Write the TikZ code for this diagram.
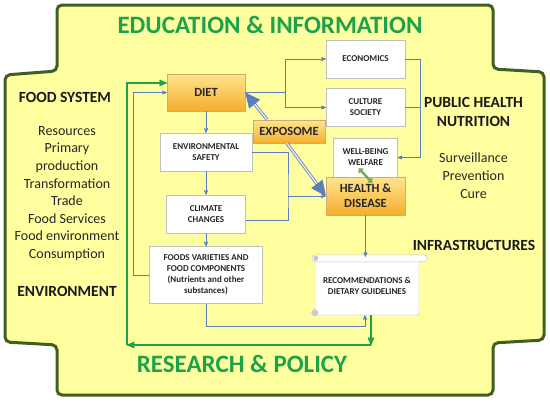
\documentclass[tikz,border=0pt]{standalone}
\usepackage{fontspec}
\setmainfont{Carlito}
\usepackage{xcolor}
\usepackage{tikz}
\usetikzlibrary{arrows,arrows.meta,calc}

\definecolor{edugreen}{HTML}{1BA24A}
\definecolor{framegreen}{HTML}{3F5F1F}
\definecolor{paper}{HTML}{FFFFA0}
\definecolor{linkblue}{HTML}{5A7EC0}
\definecolor{boxline}{HTML}{BFBFBF}
\definecolor{hottop}{HTML}{FFE58E}
\definecolor{hotbot}{HTML}{F5AE2E}
\definecolor{wellgreen}{HTML}{70AD47}

\begin{document}
\begin{tikzpicture}[x=1pt,y=-1pt,>=stealth',node distance=61pt,
 box/.style={draw=boxline,fill=white,align=center,inner sep=2pt,
  font=\bfseries\fontsize{9}{11}\selectfont,text=black!85},
 hot/.style={draw=boxline!60!orange,top color=hottop,bottom color=hotbot,align=center,
  inner sep=2pt,font=\bfseries\fontsize{12.5}{15}\selectfont,text=black!85},
 link/.style={draw=linkblue,line width=0.7pt},
 green link/.style={draw=edugreen,line width=1.6pt},
 expo arrow/.style={draw=linkblue,double=blue!8,double distance=1.4pt,line width=0.8pt,
  -{Triangle[length=15pt,width=14pt]}},
 big/.style={font=\bfseries\fontsize{25}{28}\selectfont,text=edugreen},
 head/.style={font=\bfseries\fontsize{15.5}{19}\selectfont,align=center,text=black!90},
 list/.style={font=\fontsize{14}{17.6}\selectfont,align=center,text=black!85}]
 \useasboundingbox (0,0) rectangle (550,402);

 % frame
 \draw[framegreen,line width=3pt,fill=paper,rounded corners=5pt]
  (57,5) -- (493,5) -- (493,69) -- (544,72) -- (544,340) -- (493,343)
  -- (493,395) -- (57,395) -- (57,345) -- (5,342) -- (5,75) -- (57,71) -- cycle;

 % texts round the frame
 \node[big] (edu) at (270,25) {EDUCATION \& INFORMATION};
 \node[big] (research) at (242,364) {RESEARCH \& POLICY};
 \node[head] (foodsys) at (65,97) {FOOD SYSTEM};
 \node[list] (chain) at (67,193.5) {Resources\\Primary\\production\\Transformation\\Trade\\Food Services\\Food environment\\Consumption};
 \node[head] (environment) at (67,291) {ENVIRONMENT};
 \node[head] (phn) at (473.5,112) {PUBLIC HEALTH\\NUTRITION};
 \node[list,font=\fontsize{14}{18}\selectfont] (care) at (473.5,176) {Surveillance\\Prevention\\Cure};
 \node[head] (infra) at (474,245) {INFRASTRUCTURES};

 % left column
 \node[hot,minimum width=78pt,minimum height=37pt] (diet) at (206,92.5) {DIET};
 \node[box,minimum width=92pt,minimum height=38pt,below of=diet,node distance=59.5pt] (env) {ENVIRONMENTAL\\SAFETY};
 \node[box,minimum width=79pt,minimum height=38pt,below of=env,node distance=62pt] (climate) {CLIMATE\\CHANGES};
 \node[box,minimum width=113pt,minimum height=57pt,below of=climate] (foods) {FOODS VARIETIES AND\\FOOD COMPONENTS\\(Nutrients and other\\substances)};

 % right column
 \node[box,minimum width=79pt,minimum height=38pt] (econ) at (365.5,59) {ECONOMICS};
 \node[box,minimum width=79pt,minimum height=38pt,below of=econ,node distance=48.5pt] (culture) {CULTURE\\SOCIETY};
 \node[box,minimum width=64pt,minimum height=39pt,below of=culture,node distance=50pt] (well) {WELL-BEING\\WELFARE};
 \node[hot,minimum width=79pt,minimum height=38pt,below of=well,node distance=38.5pt] (health) {HEALTH \&\\DISEASE};
 \node[hot,minimum width=72pt,minimum height=23pt] (expo) at (289,131.5) {EXPOSOME};

 % scroll
 \node[box,rounded corners=2pt,minimum width=104pt,minimum height=58pt] (rec) at (367,286) {RECOMMENDATIONS \&\\DIETARY GUIDELINES};
 \draw[boxline,fill=white,rounded corners=3.5pt] ($(rec.north west)+(-3,-2)$) rectangle ($(rec.north east)+(8,5)$);
 \fill[gray!45] ($(rec.north west)+(1,1.5)$) circle (2.5pt);
 \fill[gray!40] ($(rec.south west)+(0,-2.5)$) circle (3.5pt);

 % connectors
 \coordinate (split) at (285,92.5);
 \coordinate (rjoin) at ($(well.east)+(23,0)$);
 \coordinate (hx) at (288,196);
 \coordinate (gr) at (371,345);
 \coordinate (gl) at (127,345);

 \draw[link,->] (diet.east) -- (split) |- (econ.west);
 \draw[link,->] (split) |- (culture.west);
 \draw[link,->] (econ.east) -| (rjoin) -- (well.east);
 \draw[link] (culture.east) -- (culture.east -| rjoin);
 \draw[link,->] (diet) -- (env);
 \draw[link,->] (env) -- (climate);
 \draw[link,->] (climate) -- (foods);
 \draw[link] (env.east) -| (hx) |- ([yshift=-6pt]climate.east);
 \draw[link,->] (hx) -- (health.west);
 \draw[link,->] (health.south) -- (health.south |- rec.north);
 \draw[link,->] (foods.west) -- ++(-16,0) |- (diet.west);
 \draw[link,->] (foods.south) -- ++(0,23) -| ([xshift=-2pt]rec.south);

 \draw[expo arrow] ($(expo.north west)!0.2!(expo.north east)$) -- (diet.east);
 \draw[expo arrow] ($(expo.south west)!0.47!(expo.south east)$) -- (health.west);
 \draw[wellgreen,line width=2.4pt,{Triangle[length=4pt,width=7pt]}-{Triangle[length=4pt,width=7pt]}]
  ([xshift=-7pt,yshift=9pt]well.south) -- ([xshift=7pt,yshift=-6pt]health.north);

 \draw[green link,->] ([xshift=4pt]rec.south) -- (gr);
 \draw[green link,->] (gr) -- (gl);
 \draw[green link,->] (gl) |- ([yshift=9.5pt]diet.west);
\end{tikzpicture}
\end{document}
